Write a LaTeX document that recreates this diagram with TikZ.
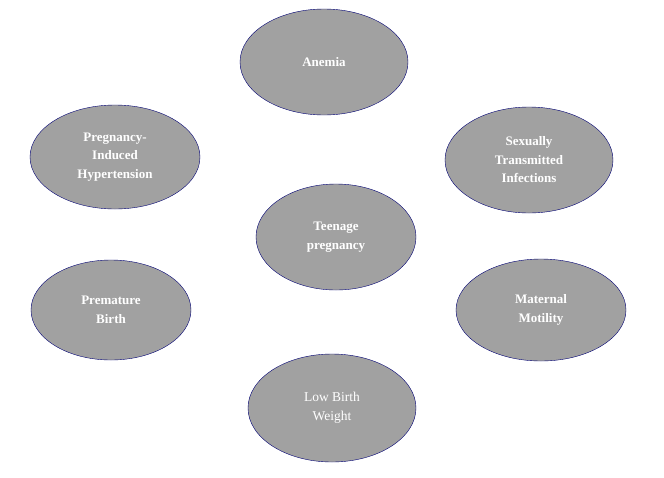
\documentclass[tikz,border=0pt]{standalone}
\usepackage{fontspec}
\setmainfont{Liberation Serif}
\usetikzlibrary{shapes.geometric}

\begin{document}
\begin{tikzpicture}[x=1pt,y=-1pt,
  bubble/.style={ellipse, draw=blue!45!black, fill=black!37, text=white,
    font=\fontsize{13}{18.5}\selectfont\bfseries, align=center, inner sep=0pt},
  plainbubble/.style={bubble, font=\fontsize{13.5}{18.5}\selectfont}]
  \useasboundingbox (0,0) rectangle (664,477);
  \node (anemia) [bubble, minimum width=168pt, minimum height=106pt] at (324,62) {Anemia};
  \node (pih) [bubble, minimum width=170pt, minimum height=104pt] at (115,157) {Pregnancy-\\Induced\\Hypertension};
  \node (sti) [bubble, minimum width=168pt, minimum height=106pt] at (529,160) {Sexually\\Transmitted\\Infections};
  \node (teen) [bubble, minimum width=160pt, minimum height=106pt] at (336,237) {Teenage\\pregnancy};
  \node (premature) [bubble, minimum width=160pt, minimum height=100pt] at (111,310) {Premature\\Birth};
  \node (maternal) [bubble, minimum width=170pt, minimum height=102pt] at (541,310) {Maternal\\Motility};
  \node (lbw) [plainbubble, minimum width=168pt, minimum height=108pt] at (332,408) {Low Birth\\Weight};
\end{tikzpicture}
\end{document}
